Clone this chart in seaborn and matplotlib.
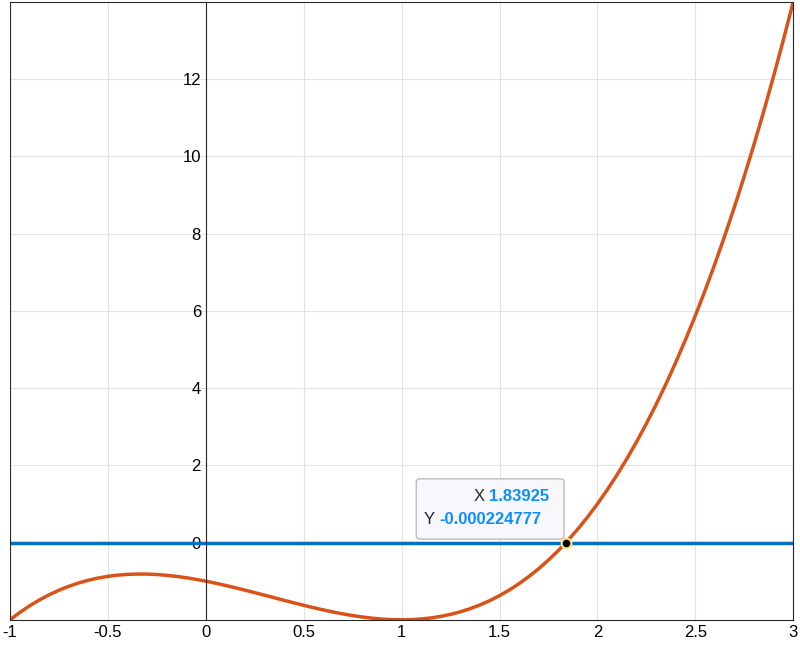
import matplotlib
matplotlib.use('Agg')
import matplotlib.pyplot as plt
import seaborn as sns
from matplotlib.patches import FancyBboxPatch

# curve samples (step 0.05)
x_vals = [round(-1 + 0.05 * i, 2) for i in range(81)]
y_vals = [-2.0, -1.810, -1.639, -1.487, -1.352, -1.234, -1.133, -1.047, -0.976, -0.919,
          -0.875, -0.844, -0.824, -0.815, -0.817, -0.828, -0.848, -0.876, -0.911, -0.953,
          -1.0, -1.052, -1.109, -1.169, -1.232, -1.297, -1.363, -1.430, -1.496, -1.561,
          -1.625, -1.686, -1.744, -1.798, -1.847, -1.891, -1.928, -1.958, -1.981, -1.995,
          -2.0, -1.995, -1.979, -1.952, -1.912, -1.859, -1.793, -1.712, -1.616, -1.504,
          -1.375, -1.229, -1.064, -0.880, -0.677, -0.453, -0.208, 0.059, 0.349, 0.662,
          1.0, 1.363, 1.751, 2.166, 2.608, 3.078, 3.577, 4.105, 4.664, 5.254,
          5.875, 6.529, 7.216, 7.937, 8.693, 9.484, 10.312, 11.177, 12.079, 13.020, 14.0]
zero_x = [-1, 3]
zero_y = [0, 0]
tip_x = 1.83925
tip_y = -0.000224777

sns.set_style('white')
plt.rcParams['font.family'] = ['Liberation Sans', 'DejaVu Sans']
fig = plt.figure(figsize=(8, 6.49), dpi=100)
ax = fig.add_axes([0.0125, 0.045, 0.979, 0.952])

sns.lineplot(x=zero_x, y=zero_y, ax=ax, color='#0072BD', linewidth=2.5)
sns.lineplot(x=x_vals, y=y_vals, ax=ax, color='#D95319', linewidth=2.5)
ax.plot([tip_x], [tip_y], 'o', color='black', markeredgecolor='#FFE680',
        markersize=7, markeredgewidth=1.5, zorder=5)

ax.set_xlim(-1, 3)
ax.set_ylim(-2, 14)
ax.set_xticks([-1, -0.5, 0, 0.5, 1, 1.5, 2, 2.5, 3])
ax.set_xticklabels(['-1', '-0.5', '0', '0.5', '1', '1.5', '2', '2.5', '3'])
ax.set_yticks([0, 2, 4, 6, 8, 10, 12])
ax.grid(True, color='#E3E3E3', linewidth=0.8)
ax.set_axisbelow(True)
ax.tick_params(labelsize=12, length=4, direction='in', colors='black')

# y axis through x = 0
ax.spines['left'].set_position(('data', 0))
for s in ['top', 'right', 'bottom', 'left']:
    ax.spines[s].set_color('#262626')
    ax.spines[s].set_linewidth(0.8)
ax.axvline(-1, color='#262626', linewidth=0.8)

# datatip
box = FancyBboxPatch((1.075, 0.09), 0.755, 1.56, boxstyle='round,pad=0,rounding_size=0.02',
                     facecolor='#F8F8FC', edgecolor='#BDBDBD', linewidth=1, zorder=4,
                     mutation_aspect=4)
ax.add_patch(box)
ax.text(1.425, 1.18, 'X', fontsize=12, ha='right', va='center', zorder=6)
ax.text(1.447, 1.18, '1.83925', fontsize=12, ha='left', va='center',
        color='#0A8FFF', fontweight='bold', zorder=6)
ax.text(1.17, 0.59, 'Y', fontsize=12, ha='right', va='center', zorder=6)
ax.text(1.195, 0.59, '-0.000224777', fontsize=12, ha='left', va='center',
        color='#0A8FFF', fontweight='bold', zorder=6)

fig.savefig('out.png', dpi=100)
